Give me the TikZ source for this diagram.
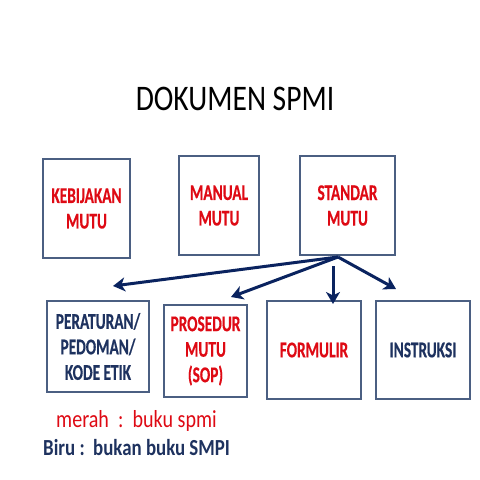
\documentclass[tikz,border=0pt]{standalone}
\usepackage{fontspec}
\setmainfont{Carlito}[FakeStretch = 0.82]
\newfontfamily\kotakfont{Carlito}[FakeStretch = 0.68, BoldFeatures = {FakeBold = 0.4}]
\usepackage{tikz}
\usetikzlibrary{arrows.meta}

\definecolor{merah}{RGB}{222,10,20}
\definecolor{biru}{RGB}{30,50,95}
\definecolor{garis}{RGB}{75,95,130}
\definecolor{panah}{RGB}{10,35,95}

\begin{document}
\begin{tikzpicture}[
    x = 1pt, y = -1pt,
    dokumen/.style = {
      rectangle, draw = garis, line width = 1.2pt, inner sep = 0pt,
      align = center, font = \kotakfont\fontsize{22.5}{25.5}\selectfont\bfseries
    },
    merahbox/.style = { dokumen, text = merah },
    birubox/.style  = { dokumen, text = biru },
    turun/.style = { draw = panah, line width = 3pt,
      -{Stealth[length = 12pt, width = 14pt, inset = 3.5pt]} }
  ]
    \useasboundingbox (0,0) rectangle (480,480);

    \node (judul) at (235,99) {\fontsize{36}{40}\selectfont DOKUMEN SPMI};

    % baris atas
    \node [merahbox, minimum width = 87pt, minimum height = 99pt] (kebijakan)
      at (86.5,208.5) {KEBIJAKAN\\MUTU};
    \node [merahbox, minimum width = 80pt, minimum height = 99pt] (manual)
      at (219,205.5) {MANUAL\\MUTU};
    \node [merahbox, minimum width = 95pt, minimum height = 99pt] (standar)
      at (347.5,205.5) {STANDAR\\MUTU};

    % baris bawah
    \node [birubox, minimum width = 102pt, minimum height = 91pt] (peraturan)
      at (98,346.5) {PERATURAN/\\PEDOMAN/\\KODE ETIK};
    \node [merahbox, minimum width = 83pt, minimum height = 92pt] (prosedur)
      at (205.5,351) {PROSEDUR\\MUTU\\(SOP)};
    \node [merahbox, minimum width = 94pt, minimum height = 98pt] (formulir)
      at (314,350) {FORMULIR};
    \node [birubox, minimum width = 94pt, minimum height = 98pt] (instruksi)
      at (423,350) {INSTRUKSI};

    % panah
    \coordinate (cabang) at (338,257);
    \coordinate (keperaturan) at (113,286);
    \coordinate (keprosedur) at (231,297);
    \coordinate (keformulir) at (333,304);
    \coordinate (keinstruksi) at (396,289);
    \draw [turun] (cabang) -- (keperaturan);
    \draw [turun] (cabang) -- (keprosedur);
    \draw [turun] (333,266) -- (keformulir);
    \draw [turun] (cabang) -- (keinstruksi);

    % keterangan
    \node [anchor = base west, text = merah, inner sep = 0pt] (ketmerah)
      at (56,427) {\fontsize{24.5}{28}\selectfont merah\ \ :\ \ buku spmi};
    \node [anchor = base west, text = biru, inner sep = 0pt] (ketbiru)
      at (43,455) {\fontsize{23}{26}\selectfont\bfseries Biru :\ \ bukan buku SMPI};
\end{tikzpicture}
\end{document}
